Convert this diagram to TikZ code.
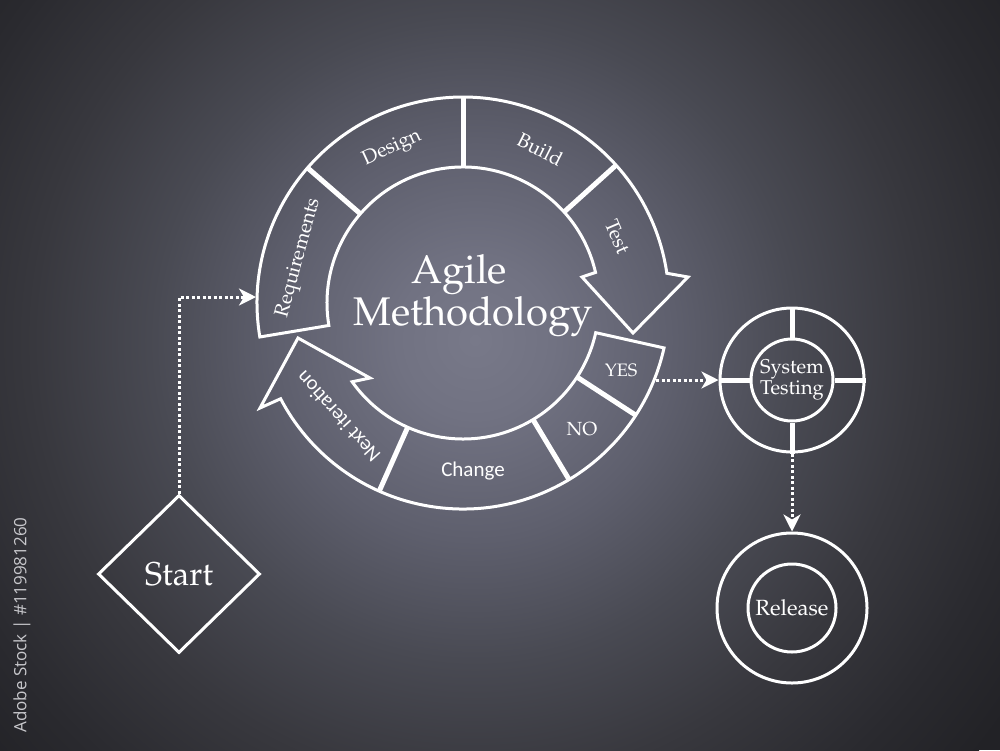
\documentclass[tikz,border=0pt]{standalone}
\usepackage[T1]{fontenc}
\usepackage{fontspec}
\newfontfamily\carl{Carlito}
\newfontfamily\opens{Open Sans}
\newcommand\pal{\fontencoding{T1}\fontfamily{ppl}\selectfont}
\usetikzlibrary{calc,arrows.meta,shapes.geometric}
\definecolor{bgA}{HTML}{787989}
\definecolor{bgB}{HTML}{717282}
\definecolor{bgC}{HTML}{5E5F6D}
\definecolor{bgD}{HTML}{494A53}
\definecolor{bgE}{HTML}{38383E}
\definecolor{bgF}{HTML}{2A2A2F}
\definecolor{bgG}{HTML}{222226}
\definecolor{wm}{HTML}{C8C8CC}
\pgfdeclareradialshading{bgshade}{\pgfpoint{0bp}{0bp}}{color(0bp)=(bgA); color(3bp)=(bgB); color(7.7bp)=(bgC); color(12.3bp)=(bgD); color(17bp)=(bgE); color(21.5bp)=(bgF); color(25bp)=(bgG); color(50bp)=(bgG)}
\tikzset{
  ring/.style={draw=white, line width=3pt, line join=miter},
  divider/.style={draw=white, line width=5pt},
  lbl/.style={text=white, inner sep=0pt},
  dotline/.style={draw=white, line width=3pt, dash pattern=on 3pt off 2.5pt, -{Stealth[length=17pt,width=17pt,inset=5pt]}},
  circ/.style={circle, draw=white, line width=3pt, inner sep=0pt},
}
\begin{document}
\begin{tikzpicture}[x=1pt,y=1pt]
\useasboundingbox (0,0) rectangle (1000,-750);
\fill[bgG] (0,0) rectangle (1000,-750);
\begin{scope}
\clip (0,0) rectangle (1000,-750);
\shade[shading=bgshade] (475,-340) circle (650pt);
\end{scope}

\coordinate (C) at (463,-303);
% top ring with arrow
\draw[ring] ($(C)+(189.5:206pt)$) arc[start angle=189.5, end angle=8.3, radius=206pt]
  -- (688,-277) -- (633,-333) -- (582,-277)
  -- ($(C)+(13:136pt)$) arc[start angle=13, end angle=189.5, radius=136pt] -- cycle;
\foreach \a in {139,90,42}
  \draw[divider] ($(C)+(\a:136pt)$) -- ($(C)+(\a:206pt)$);
% bottom ring with arrow
\draw[ring] ($(C)+(-12.6:206pt)$) arc[start angle=-12.6, end angle=-152.3, radius=206pt]
  -- (260,-408) -- (298,-338) -- (370,-378)
  -- ($(C)+(-144.6:136pt)$) arc[start angle=-144.6, end angle=-12.6, radius=136pt] -- cycle;
\foreach \a in {-33,-59,-114}
  \draw[divider] ($(C)+(\a:136pt)$) -- ($(C)+(\a:206pt)$);

% ring labels
\node[lbl, font=\pal\fontsize{20}{24}\selectfont, rotate=74.7] (req) at ($(C)+(164.7:170pt)$) {Requirements};
\node[lbl, font=\pal\fontsize{20}{24}\selectfont, rotate=24.6] (design) at ($(C)+(114.6:170pt)$) {Design};
\node[lbl, font=\pal\fontsize{20}{24}\selectfont, rotate=-26.7] (build) at ($(C)+(63.3:172pt)$) {Build};
\node[lbl, font=\pal\fontsize{20}{24}\selectfont, rotate=-66.8] (test) at ($(C)+(23.2:168pt)$) {Test};
\node[lbl, font=\pal\fontsize{18}{20}\selectfont] (yes) at (621,-370) {YES};
\node[lbl, font=\pal\fontsize{19}{21}\selectfont] (no) at (582,-429) {NO};
\node[lbl, font=\carl\fontsize{21}{24}\selectfont] (change) at (473,-471) {Change};
\node[lbl, font=\carl\fontsize{20.5}{24}\selectfont, rotate=132] (next) at (338,-417) {Next iteration};

% centre title
\node[lbl, font=\pal\fontsize{40}{44}\selectfont, anchor=base] (agile) at (459,-283) {Agile};
\node[lbl, font=\pal\fontsize{40}{44}\selectfont, anchor=base] (method) at (473,-325) {Methodology};

% start
\node[diamond, draw=white, line width=3pt, minimum width=162pt, minimum height=158pt, inner sep=0pt,
  text=white, font=\pal\fontsize{33}{36}\selectfont] (start) at (179,-574) {Start};

% system testing
\node[circ, minimum size=144pt] (sysout) at (792,-380) {};
\node[circ, minimum size=82pt, text=white, align=center, font=\pal\fontsize{20}{16}\selectfont] (sysin) at (792,-380) {System\\Testing};
\foreach \d in {north,south,east,west}
  \draw[divider] (sysin.\d) -- (sysout.\d);

% release
\node[circ, minimum size=150pt] (relout) at (792,-608) {};
\node[circ, minimum size=88pt, text=white, font=\pal\fontsize{22}{24}\selectfont] (relin) at (792,-608) {Release};

% connectors
\coordinate (reqin) at (256,-297);
\coordinate (yesout) at (656,-380);
\draw[dotline] (start.north) |- (reqin);
\draw[dotline] (yesout) -- (sysout.west);
\draw[dotline] (sysout.south) -- (relout.north);

% side caption
\node[text=wm, inner sep=0pt, font=\opens\fontsize{17}{20}\selectfont, rotate=90] (stock) at (22,-625) {Adobe Stock | \#119981260};
\end{tikzpicture}
\end{document}
